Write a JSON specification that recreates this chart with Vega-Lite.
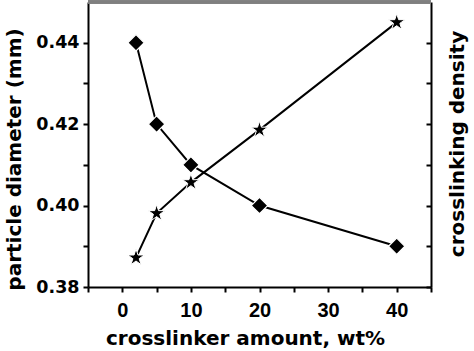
{
  "$schema": "https://vega.github.io/schema/vega-lite/v6.json",
  "width": 343,
  "height": 285,
  "autosize": "none",
  "padding": {"left": 88, "top": 2, "right": 43, "bottom": 64},
  "background": "white",
  "config": {
    "view": {"stroke": null},
    "axis": {
      "domainColor": "black",
      "domainWidth": 2,
      "tickColor": "black",
      "tickWidth": 2,
      "tickSize": 5,
      "grid": false,
      "labelColor": "black",
      "titleColor": "black",
      "titleFont": "DejaVu Sans",
      "titleFontWeight": "bold",
      "titleFontSize": 20,
      "labelOverlap": false,
      "labelBound": false,
      "labelFlush": false
    }
  },
  "data": {
    "values": [
      {"x": 2, "diameter": 0.44, "density": 0.3872},
      {"x": 5, "diameter": 0.42, "density": 0.3981},
      {"x": 10, "diameter": 0.41, "density": 0.4057},
      {"x": 20, "diameter": 0.40, "density": 0.4186},
      {"x": 40, "diameter": 0.39, "density": 0.4450}
    ]
  },
  "encoding": {
    "x": {
      "field": "x",
      "type": "quantitative",
      "scale": {"domain": [-5, 45], "nice": false, "zero": false},
      "axis": {
        "orient": "bottom",
        "values": [-5, 0, 5, 10, 15, 20, 25, 30, 35, 40, 45],
        "labelExpr": "(datum.value % 10 == 0 && datum.value >= 0 && datum.value <= 40) ? datum.value : ''",
        "labelFont": "Liberation Sans",
        "labelFontWeight": "bold",
        "labelFontSize": 20,
        "labelPadding": 8,
        "title": "crosslinker amount, wt%",
        "titleX": 157,
        "titleY": 57,
        "titleAlign": "center",
        "titleBaseline": "alphabetic"
      }
    }
  },
  "layer": [
    {
      "encoding": {
        "y": {
          "field": "diameter",
          "type": "quantitative",
          "scale": {"domain": [0.38, 0.45], "nice": false, "zero": false},
          "axis": {
            "orient": "left",
            "values": [0.38, 0.39, 0.40, 0.41, 0.42, 0.43, 0.44],
            "labelExpr": "(round(datum.value * 100) % 2 == 0) ? format(datum.value, '.2f') : ''",
            "labelFont": "DejaVu Sans",
            "labelFontWeight": "bold",
            "labelFontSize": 17.5,
            "labelPadding": 4,
            "title": "particle diameter (mm)",
            "titleAngle": 270,
            "titleX": -68,
            "titleY": 157,
            "titleAlign": "center",
            "titleBaseline": "alphabetic"
          }
        }
      },
      "layer": [
        {"mark": {"type": "line", "color": "black", "strokeWidth": 2}},
        {"mark": {"type": "point", "shape": "diamond", "filled": true, "fill": "black", "stroke": "white", "strokeWidth": 1.2, "size": 270, "opacity": 1}}
      ]
    },
    {
      "encoding": {
        "y": {
          "field": "density",
          "type": "quantitative",
          "scale": {"domain": [0.38, 0.45], "nice": false, "zero": false},
          "axis": {
            "orient": "right",
            "values": [0.38, 0.39, 0.40, 0.41, 0.42, 0.43, 0.44],
            "labels": false,
            "tickSize": -5,
            "title": "crosslinking density",
            "titleAngle": 270,
            "titleX": 32,
            "titleY": 141.5,
            "titleAlign": "center",
            "titleBaseline": "alphabetic"
          }
        }
      },
      "layer": [
        {"mark": {"type": "line", "color": "black", "strokeWidth": 2}},
        {"mark": {"type": "point", "shape": "M0,-1L0.225,-0.309L0.951,-0.309L0.363,0.118L0.588,0.809L0,0.382L-0.588,0.809L-0.363,0.118L-0.951,-0.309L-0.225,-0.309Z", "filled": true, "fill": "black", "stroke": "white", "strokeWidth": 1, "size": 300, "opacity": 1}},
        {"mark": {"type": "rule", "color": "#7f7f7f", "strokeWidth": 3}, "encoding": {"x": null, "y": {"datum": 0.45}}}
      ]
    }
  ],
  "resolve": {"scale": {"y": "independent"}}
}
